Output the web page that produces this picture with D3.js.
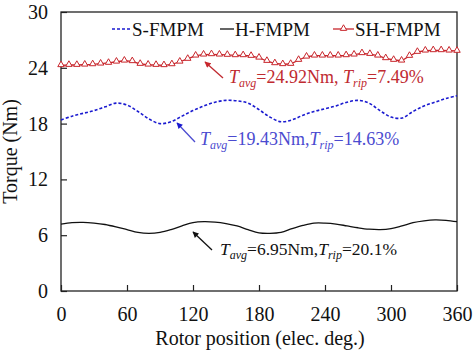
<!DOCTYPE html>
<html>
<head>
<meta charset="utf-8">
<script src="https://cdn.jsdelivr.net/npm/d3@7"></script>
<style>
  body { margin: 0; background: #fff; }
  svg { display: block; }
  svg text { font-family: "Liberation Serif", "Times New Roman", serif; }
</style>
</head>
<body>
<div id="chart"></div>
<script>
// ===============================
// Data
// ===============================
const smoothAngles = [0, 10, 20, 30, 40, 50, 60, 70, 80, 90, 100, 110, 120, 130, 140, 150, 160, 170, 180,
  190, 200, 210, 220, 230, 240, 250, 260, 270, 280, 290, 300, 310, 320, 330, 340, 350, 360];
const sTorque = [18.4, 18.8, 19.1, 19.4, 19.8, 20.2, 20.0, 19.3, 18.5, 18.0, 18.2, 18.8, 19.4, 19.9, 20.3, 20.5, 20.45, 20.2, 19.5,
  18.7, 18.2, 18.4, 18.9, 19.3, 19.6, 19.9, 20.3, 20.5, 20.2, 19.4, 18.7, 18.6, 19.3, 19.9, 20.3, 20.7, 21.0];
const hTorque = [7.2, 7.35, 7.38, 7.3, 7.15, 6.9, 6.6, 6.3, 6.2, 6.3, 6.6, 7.0, 7.35, 7.45, 7.4, 7.25, 7.0, 6.6, 6.25,
  6.2, 6.3, 6.7, 7.05, 7.3, 7.3, 7.2, 7.0, 6.8, 6.65, 6.6, 6.7, 7.0, 7.35, 7.55, 7.65, 7.6, 7.45];

const shAngles = [0, 7.2, 14.4, 21.6, 28.8, 36, 43.2, 50.4, 57.6, 64.8, 72, 79.2, 86.4, 93.6, 100.8, 108, 115.2,
  122.4, 129.6, 136.8, 144, 151.2, 158.4, 165.6, 172.8, 180, 187.2, 194.4, 201.6, 208.8, 216, 223.2, 230.4,
  237.6, 244.8, 252, 259.2, 266.4, 273.6, 280.8, 288, 295.2, 302.4, 309.6, 316.8, 324, 331.2, 338.4, 345.6, 352.8, 360];
const shTorque = [24.27, 24.30, 24.30, 24.33, 24.37, 24.44, 24.52, 24.65, 24.76, 24.70, 24.41, 24.33, 24.30, 24.27,
  24.37, 24.65, 24.95, 25.30, 25.41, 25.45, 25.41, 25.38, 25.34, 25.34, 25.27, 25.08, 24.73, 24.48, 24.38,
  24.41, 24.84, 25.19, 25.30, 25.30, 25.30, 25.30, 25.34, 25.41, 25.56, 25.48, 25.30, 25.02, 24.84, 24.76,
  25.27, 25.70, 25.84, 25.88, 25.88, 25.84, 25.81];

const xTicks = [0, 60, 120, 180, 240, 300, 360];
const yTicks = [0, 6, 12, 18, 24, 30];

const legendNames = ["S-FMPM", "H-FMPM", "SH-FMPM"];

// annotation texts: [avg, rip]
const annS = ["19.43Nm,", "14.63%"];
const annH = ["6.95Nm,", "20.1%"];
const annSH = ["24.92Nm, ", "7.49%"];

// ===============================
// Layout
// ===============================
const W = 474, H = 352;
const margin = { top: 12, right: 17, bottom: 61, left: 61 };
const iw = W - margin.left - margin.right;
const ih = H - margin.top - margin.bottom;
const serif = "'Liberation Serif', 'Times New Roman', serif";

const colS = "#1a1ad0";
const colH = "#111";
const colSH = "#c8262c";
const txtS = "#4b4bd0";
const txtSH = "#c02a30";

const svg = d3.select("#chart").append("svg").attr("width", W).attr("height", H)
  .attr("font-family", serif);
const g = svg.append("g").attr("transform", `translate(${margin.left},${margin.top})`);

const x = d3.scaleLinear().domain([0, 360]).range([0, iw]);
const y = d3.scaleLinear().domain([0, 30]).range([ih, 0]);

// arrowheads
const defs = svg.append("defs");
[["arrS", colS], ["arrH", colH], ["arrSH", colSH]].forEach(([id, c]) => {
  defs.append("marker")
    .attr("id", id)
    .attr("viewBox", "0 0 10 10")
    .attr("refX", 9).attr("refY", 5)
    .attr("markerWidth", 7).attr("markerHeight", 6)
    .attr("markerUnits", "userSpaceOnUse")
    .attr("orient", "auto")
    .append("path")
    .attr("d", "M0,0 L10,5 L0,10 Z")
    .attr("fill", c);
});

// axes (inward ticks)
const xAxis = g.append("g").attr("transform", `translate(0,${ih})`)
  .call(d3.axisBottom(x).tickValues(xTicks).tickSize(-6).tickPadding(16));
const yAxis = g.append("g")
  .call(d3.axisLeft(y).tickValues(yTicks).tickSize(-6).tickPadding(13));
[xAxis, yAxis].forEach(a => {
  a.attr("font-family", serif);
  a.select(".domain").remove();
  a.selectAll(".tick line").attr("stroke", "#222").attr("stroke-width", 1.2);
  a.selectAll(".tick text").attr("fill", "#111").attr("font-size", "20px")
    .attr("font-family", serif);
});
xAxis.selectAll(".tick text").attr("dy", "0.71em");

// frame
g.append("rect").attr("width", iw).attr("height", ih)
  .attr("fill", "none").attr("stroke", "#222").attr("stroke-width", 1.3);

// axis titles
svg.append("text").attr("x", margin.left + iw / 2 + 1).attr("y", 345)
  .attr("text-anchor", "middle").attr("font-size", "20px").attr("fill", "#111")
  .text("Rotor position (elec. deg.)");
svg.append("text").attr("transform", `translate(17,${margin.top + ih / 2}) rotate(-90)`)
  .attr("text-anchor", "middle").attr("font-size", "20px").attr("fill", "#111")
  .text("Torque (Nm)");

// lines
const smoothLine = d3.line().x(d => x(d[0])).y(d => y(d[1])).curve(d3.curveCatmullRom.alpha(0.5));
const straightLine = d3.line().x(d => x(d[0])).y(d => y(d[1]));

const sData = smoothAngles.map((a, i) => [a, sTorque[i]]);
const hData = smoothAngles.map((a, i) => [a, hTorque[i]]);
const shData = shAngles.map((a, i) => [a, shTorque[i]]);

g.append("path").datum(hData).attr("d", smoothLine)
  .attr("fill", "none").attr("stroke", colH).attr("stroke-width", 1.3);
g.append("path").datum(sData).attr("d", smoothLine)
  .attr("fill", "none").attr("stroke", colS).attr("stroke-width", 1.6)
  .attr("stroke-dasharray", "3,2");
g.append("path").datum(shData).attr("d", straightLine)
  .attr("fill", "none").attr("stroke", colSH).attr("stroke-width", 1.3);

const tri = d3.symbol().type(d3.symbolTriangle).size(18);
g.selectAll(".sh-pt").data(shData).enter().append("path")
  .attr("class", "sh-pt")
  .attr("transform", d => `translate(${x(d[0])},${y(d[1]) - 0.5})`)
  .attr("d", tri)
  .attr("fill", "#fff").attr("stroke", colSH).attr("stroke-width", 1);

// legend
const legY = 29;
const legend = svg.append("g");
const legItems = [
  { name: legendNames[0], x0: 112, x1: 131, color: colS, dash: "3,2", marker: false },
  { name: legendNames[1], x0: 220, x1: 234, color: colH, dash: null, marker: false },
  { name: legendNames[2], x0: 333, x1: 354, color: colSH, dash: null, marker: true }
];
legItems.forEach(it => {
  legend.append("line").attr("x1", it.x0).attr("x2", it.x1).attr("y1", legY).attr("y2", legY)
    .attr("stroke", it.color).attr("stroke-width", it.dash ? 1.6 : 1.3)
    .attr("stroke-dasharray", it.dash);
  if (it.marker) {
    legend.append("path").attr("transform", `translate(${(it.x0 + it.x1) / 2},${legY - 0.5})`)
      .attr("d", tri).attr("fill", "#fff").attr("stroke", it.color).attr("stroke-width", 1);
  }
  legend.append("text").attr("x", it.x1 + 1).attr("y", legY + 6.5)
    .attr("font-size", "19px").attr("fill", "#111").text(it.name);
});

// annotations
function annotate(tx, ty, vals, color, fs, arrow) {
  const t = svg.append("text").attr("x", tx).attr("y", ty).attr("font-size", fs + "px").attr("fill", color);
  t.append("tspan").attr("font-style", "italic").text("T");
  t.append("tspan").attr("font-style", "italic").attr("font-size", "12px").attr("dy", 4).text("avg");
  t.append("tspan").attr("dy", -4).text("=" + vals[0]);
  t.append("tspan").attr("font-style", "italic").text("T");
  t.append("tspan").attr("font-style", "italic").attr("font-size", "12px").attr("dy", 4).text("rip");
  t.append("tspan").attr("dy", -4).text("=" + vals[1]);
  svg.append("line")
    .attr("x1", arrow[0]).attr("y1", arrow[1]).attr("x2", arrow[2]).attr("y2", arrow[3])
    .attr("stroke", color).attr("stroke-width", 1.3)
    .attr("marker-end", `url(#${arrow[4]})`);
}
annotate(229, 83, annSH, txtSH, 18, [223, 78, 205, 62, "arrSH"]);
annotate(200, 145, annS, txtS, 18, [195, 142, 177, 123, "arrS"]);
annotate(220, 255, annH, colH, 17.5, [212, 250, 193, 232, "arrH"]);
</script>
</body>
</html>
